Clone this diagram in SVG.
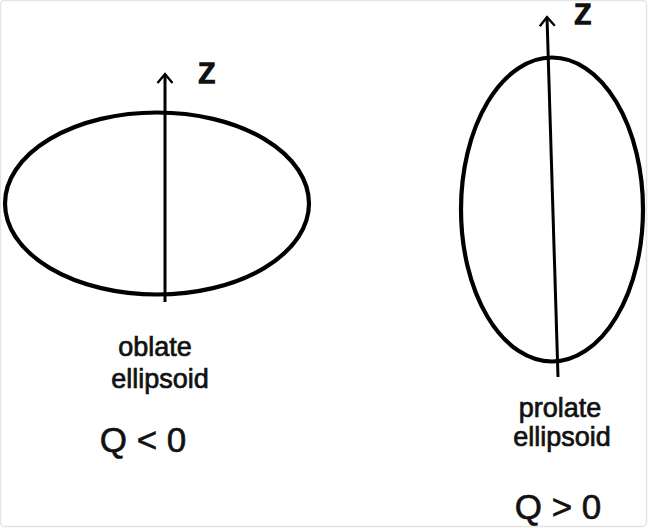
<svg xmlns="http://www.w3.org/2000/svg" width="648" height="528" viewBox="0 0 648 528">
<style>
.shape{fill:none;stroke:#000;stroke-width:4.2}
.axis{fill:none;stroke:#000;stroke-width:3}
.lbl{font-family:"Liberation Sans",Arial,sans-serif;font-size:27px;fill:#111;stroke:#111;stroke-width:0.7;text-anchor:middle}
.q{font-family:"Liberation Sans",Arial,sans-serif;font-size:35px;fill:#111;stroke:#111;stroke-width:0.6;text-anchor:middle}
.z{font-family:"Liberation Sans",Arial,sans-serif;font-size:36px;fill:#111;stroke:#111;stroke-width:1.6}
</style>
<defs>
<marker id="arr" viewBox="-12 -10 20 20" markerWidth="20" markerHeight="20" markerUnits="userSpaceOnUse" refX="0" refY="0" orient="auto">
<path d="M-9,-7.5 L0,0 L-9,7.5" fill="none" stroke="#000" stroke-width="2.4"/>
</marker>
</defs>
<rect x="0.5" y="0.5" width="646" height="526" rx="4" fill="#fff" stroke="#e4e4e4" stroke-width="1.5"/>
<g id="oblate">
<ellipse class="shape" cx="157" cy="203.5" rx="152" ry="91"/>
<text class="z" x="198" y="83">z</text>
<text class="lbl" x="155" y="356">oblate</text>
<text class="lbl" x="160" y="388">ellipsoid</text>
<text class="q" x="143" y="452">Q &lt; 0</text>
</g>
<g id="prolate">
<ellipse class="shape" cx="552" cy="209.5" rx="91" ry="152"/>
<text class="z" x="574" y="24">z</text>
<text class="lbl" x="560" y="417">prolate</text>
<text class="lbl" x="562" y="446">ellipsoid</text>
<text class="q" x="558" y="519">Q &gt; 0</text>
</g>
<g id="connectors">
<line class="axis" x1="165" y1="302" x2="165" y2="74" marker-end="url(#arr)"/>
<line class="axis" x1="558" y1="377" x2="547" y2="17" marker-end="url(#arr)"/>
</g>
</svg>
